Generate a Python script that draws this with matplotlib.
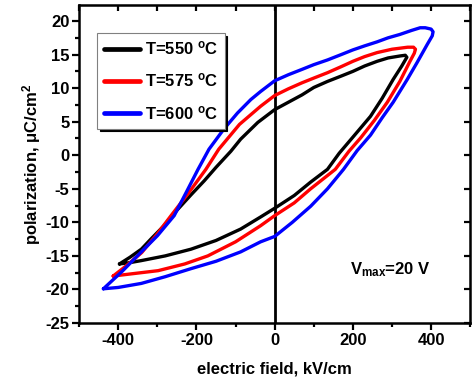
import matplotlib
matplotlib.use("Agg")
import matplotlib.pyplot as plt
from matplotlib.ticker import MultipleLocator

plt.rcParams['font.family'] = ['Liberation Sans', 'DejaVu Sans']
plt.rcParams['font.weight'] = 'bold'
plt.rcParams['axes.unicode_minus'] = False
plt.rcParams['mathtext.fontset'] = 'custom'
plt.rcParams['mathtext.rm'] = 'Liberation Sans:bold'
plt.rcParams['mathtext.it'] = 'Liberation Sans:bold'
plt.rcParams['mathtext.bf'] = 'Liberation Sans:bold'

# hysteresis loops: field in kV/cm, polarization in uC/cm^2
e_550 = [-397, -370, -341, -280, -214, -150, -87, -36, 0, 50, 92, 135, 165, 200, 245, 275, 303, 325, 338,
         334, 321, 290, 262, 230, 200, 170, 135, 100, 70, 35, 0, -43, -87, -112, -150, -180, -214, -250, -283, -315, -341, -370, -397]
p_550 = [-16.2, -16.0, -15.7, -15.0, -14.0, -12.7, -11.0, -9.2, -7.9, -6.0, -4.0, -2.1, 0.3, 2.7, 5.8, 8.5, 11.3, 13.3, 14.6,
         14.9, 14.8, 14.5, 14.0, 13.3, 12.5, 11.8, 11.0, 10.1, 9.0, 7.9, 6.8, 4.9, 2.4, 0.6, -1.8, -3.8, -5.9, -8.2, -10.5, -12.4, -14.0, -15.2, -16.2]

e_575 = [-413, -370, -298, -230, -171, -100, -36, 0, 50, 92, 155, 190, 220, 255, 288, 320, 346, 357, 360,
         355, 340, 300, 262, 230, 200, 170, 135, 100, 70, 35, 0, -36, -90, -143, -176, -220, -265, -300, -340, -380, -413]
p_575 = [-18.0, -17.7, -17.2, -16.2, -15.0, -12.9, -10.5, -9.0, -7.1, -5.0, -2.1, 0.6, 2.6, 5.2, 7.9, 11.0, 14.0, 15.2, 15.8,
         16.1, 16.1, 15.8, 15.3, 14.7, 14.0, 13.2, 12.3, 11.5, 10.8, 9.9, 8.9, 7.3, 4.6, 0.9, -2.1, -5.6, -9.0, -11.7, -14.5, -16.5, -18.0]

e_600 = [-438, -400, -341, -280, -214, -150, -87, -36, 0, 45, 92, 135, 176, 211, 245, 275, 303, 339, 364, 390, 403, 405,
         400, 385, 372, 350, 320, 290, 262, 230, 200, 170, 135, 100, 70, 35, 0, -36, -61, -95, -130, -168, -196, -225, -257, -300, -341, -390, -438]
p_600 = [-19.9, -19.7, -19.1, -18.1, -16.9, -15.8, -14.4, -12.9, -12.1, -10.0, -7.6, -5.0, -2.1, 0.7, 3.0, 5.6, 7.9, 11.3, 13.8, 16.5, 17.8, 18.4,
         18.8, 19.0, 19.0, 18.6, 18.0, 17.5, 16.9, 16.3, 15.7, 15.0, 14.2, 13.5, 12.8, 12.0, 11.1, 9.5, 8.3, 6.3, 3.9, 0.9, -2.1, -5.4, -9.0, -12.0, -14.4, -17.3, -19.9]

labels = ["T=550 $^{\\rm o}$C", "T=575 $^{\\rm o}$C", "T=600 $^{\\rm o}$C"]
colors = ["black", "red", "blue"]

fig = plt.figure(figsize=(4.74, 3.8), dpi=100)
ax = fig.add_axes([0.167, 0.15, 0.825, 0.837])

ax.axvline(0, color="black", lw=2.0, zorder=1)

for e, p, lab, c in zip([e_550, e_575, e_600], [p_550, p_575, p_600], labels, colors):
    ax.plot(e, p, color=c, lw=2.4, label=lab, solid_joinstyle="round", solid_capstyle="round", zorder=2)

ax.set_xlim(-500, 500)
ax.set_ylim(-25, 22.4)
ax.xaxis.set_major_locator(MultipleLocator(200))
ax.xaxis.set_minor_locator(MultipleLocator(100))
ax.yaxis.set_major_locator(MultipleLocator(5))
ax.yaxis.set_minor_locator(MultipleLocator(2.5))

ax.tick_params(which="both", direction="out", width=1.6, labelsize=12, pad=2)
ax.tick_params(which="major", length=5)
ax.tick_params(which="minor", length=3)
for s in ax.spines.values():
    s.set_linewidth(1.8)

# inward ticks on top and right
ax_top = ax.secondary_xaxis("top")
ax_top.xaxis.set_major_locator(MultipleLocator(200))
ax_top.xaxis.set_minor_locator(MultipleLocator(100))
ax_top.tick_params(which="both", direction="in", width=1.6, labeltop=False, length=4)
ax_right = ax.secondary_yaxis("right")
ax_right.yaxis.set_major_locator(MultipleLocator(5))
ax_right.tick_params(which="both", direction="in", width=1.6, labelright=False, length=4)

for t in ax.get_xticklabels() + ax.get_yticklabels():
    t.set_fontweight("bold")

ax.set_xlabel("electric field, kV/cm", fontsize=12, fontweight="bold", labelpad=10)
ax.set_ylabel("polarization, \u03bcC/cm$^2$", fontsize=12, fontweight="bold", labelpad=2)

ax.text(295, -17, "V$_{\\rm max}$=20 V", fontsize=12, fontweight="bold", ha="center", va="center")

leg = ax.legend(loc="upper left", bbox_to_anchor=(0.046, 0.912), borderaxespad=0, fontsize=12,
                handlelength=2.2, handletextpad=0.25, labelspacing=0.85, borderpad=0.4,
                fancybox=False, edgecolor="gray", framealpha=1,
                shadow={"color": "black", "alpha": 1})
leg.get_frame().set_linewidth(0.8)
for h in leg.legend_handles:
    h.set_linewidth(3.4)

fig.savefig("out.png", dpi=100)
